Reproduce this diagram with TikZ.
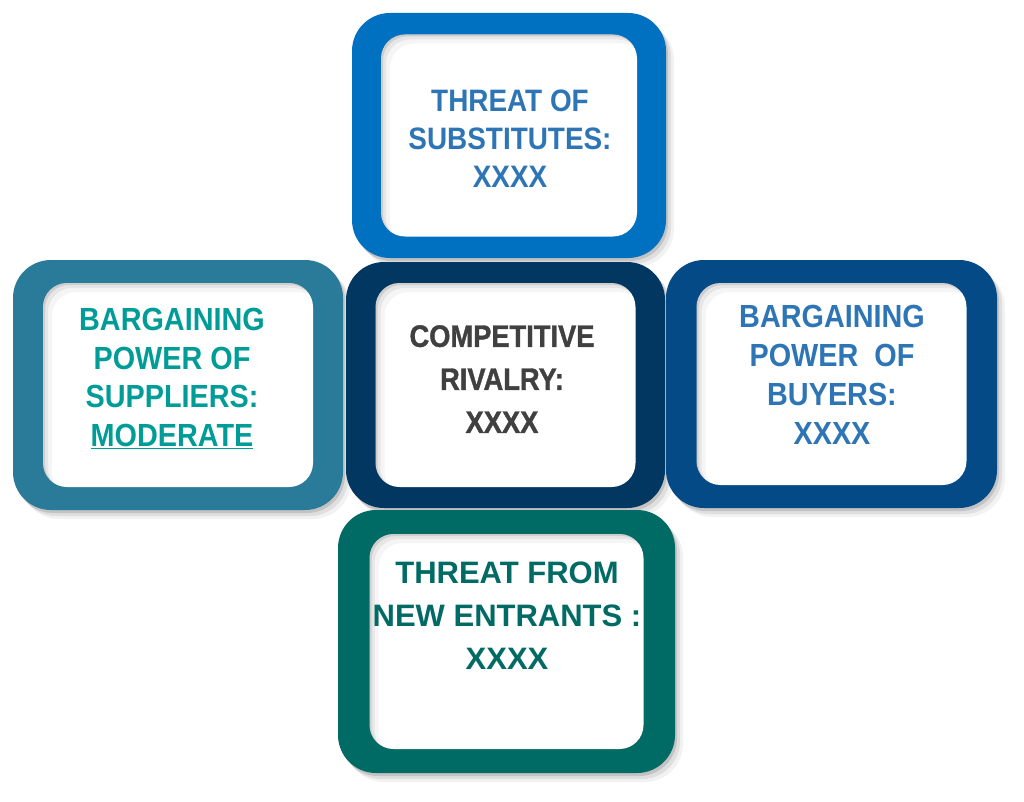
\documentclass[tikz,border=0pt]{standalone}
\usepackage{fontspec}
\usetikzlibrary{shadows}
\newfontfamily\porterfont[FakeStretch=0.9]{Liberation Sans}
\newfontfamily\porterheavy[FakeStretch=0.88,FakeBold=1.2]{Liberation Sans}
\newfontfamily\porterwide{Liberation Sans}
\definecolor{subsblue}{HTML}{0070C0}
\definecolor{suppteal}{HTML}{2A7B9A}
\definecolor{rivnavy}{HTML}{023762}
\definecolor{buyblue}{HTML}{034A86}
\definecolor{entrgreen}{HTML}{006A64}
\definecolor{textblue}{HTML}{2E75B6}
\definecolor{textteal}{HTML}{009C98}
\definecolor{textgray}{HTML}{404040}
\definecolor{textgreen}{HTML}{006A64}
\tikzset{
   outerbox/.style ={
      rectangle, inner sep=0pt, rounded corners=38pt, fill=#1,
      drop shadow={shadow xshift=2pt, shadow yshift=-3pt, opacity=0.12, fill=black},
      drop shadow={shadow xshift=5pt, shadow yshift=-6pt, opacity=0.08, fill=black},
      drop shadow={shadow xshift=8pt, shadow yshift=-9pt, opacity=0.05, fill=black},
   },
   innerbox/.style ={
      rectangle, inner sep=0pt, rounded corners=24pt, fill=white,
      path picture={
         \foreach \d/\o in {2/0.10,5/0.06,9/0.04} {
            \fill[black, opacity=\o, even odd rule, rounded corners=24pt]
               ([shift={(-30pt,30pt)}]path picture bounding box.north west) rectangle
               ([shift={(30pt,-30pt)}]path picture bounding box.south east)
               ([shift={(\d pt,-\d pt)}]path picture bounding box.north west) rectangle
               ([shift={(\d pt,-\d pt)}]path picture bounding box.south east);
         }
      },
   },
   boxtext/.style ={
      align=center, inner sep=0pt, anchor=north, text=#1,
   },
}
\begin{document}
\begin{tikzpicture}[x=1pt,y=1pt]

      \useasboundingbox[fill=white] (0,0) rectangle (1024,-802);

      % threat of substitutes
      \node[
         outerbox=subsblue,
         minimum width=314pt,
         minimum height=245pt,
      ] (subs) at (509,-135.5) {};
      \node[
         innerbox,
         minimum width=256pt,
         minimum height=202pt,
      ] (subsin) at (subs.center) {};
      \node[
         boxtext=textblue,
         font=\porterfont\bfseries\fontsize{31}{38}\selectfont,
      ] (substxt) at (510,-90) {THREAT OF\\SUBSTITUTES:\\XXXX};

      % suppliers
      \node[
         outerbox=suppteal,
         minimum width=330pt,
         minimum height=250pt,
      ] (supp) at (178,-385) {};
      \node[
         innerbox,
         minimum width=270pt,
         minimum height=204pt,
      ] (suppin) at (supp.center) {};
      \node[
         boxtext=textteal,
         font=\porterfont\bfseries\fontsize{32}{38.5}\selectfont,
      ] (supptxt) at (172,-308) {BARGAINING\\POWER OF\\SUPPLIERS:\\\underline{MODERATE}};

      % rivalry
      \node[
         outerbox=rivnavy,
         minimum width=319pt,
         minimum height=246pt,
      ] (riv) at (505.5,-385) {};
      \node[
         innerbox,
         minimum width=260pt,
         minimum height=204pt,
      ] (rivin) at (riv.center) {};
      \node[
         boxtext=textgray,
         font=\porterheavy\bfseries\fontsize{31}{43}\selectfont,
      ] (rivtxt) at (502,-325) {COMPETITIVE\\RIVALRY:\\XXXX};

      % buyers
      \node[
         outerbox=buyblue,
         minimum width=331pt,
         minimum height=248pt,
      ] (buy) at (831.5,-384) {};
      \node[
         innerbox,
         minimum width=270pt,
         minimum height=202pt,
      ] (buyin) at (buy.center) {};
      \node[
         boxtext=textblue,
         font=\porterfont\bfseries\fontsize{32}{39}\selectfont,
      ] (buytxt) at (832,-305) {BARGAINING\\POWER\ \ OF\\BUYERS:\\XXXX};

      % new entrants
      \node[
         outerbox=entrgreen,
         minimum width=337pt,
         minimum height=263pt,
      ] (entr) at (506.5,-641.5) {};
      \node[
         innerbox,
         minimum width=274pt,
         minimum height=215pt,
      ] (entrin) at (entr.center) {};
      \node[
         boxtext=textgreen,
         font=\porterwide\bfseries\fontsize{31}{43}\selectfont,
      ] (entrtxt) at (507,-562) {THREAT FROM\\NEW ENTRANTS :\\XXXX};

\end{tikzpicture}
\end{document}
